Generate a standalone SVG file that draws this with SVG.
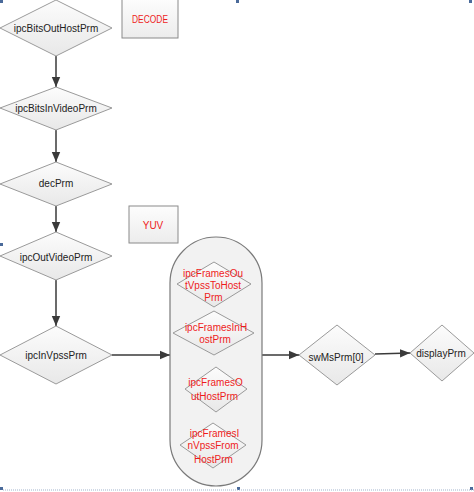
<svg xmlns="http://www.w3.org/2000/svg" width="474" height="492" viewBox="0 0 474 492">
<defs>
<linearGradient id="g" x1="0" y1="0" x2="0" y2="1">
<stop offset="0" stop-color="#fcfcfc"/>
<stop offset="1" stop-color="#e8e8e8"/>
</linearGradient>
<linearGradient id="gb" x1="0" y1="0" x2="0" y2="1">
<stop offset="0" stop-color="#fdfdfd"/>
<stop offset="1" stop-color="#ececec"/>
</linearGradient>
<marker id="ah" markerUnits="userSpaceOnUse" markerWidth="10" markerHeight="10" viewBox="0 0 10 10" refX="10" refY="5" orient="auto">
<path d="M0,0.8 L10,5 L0,9.2 Z" fill="#3a3a3a"/>
</marker>
</defs>
<style>
.d{fill:url(#g);stroke:#9a9a9a;stroke-width:1}
.b{fill:url(#gb);stroke:#8a8a8a;stroke-width:1}
.cap{fill:#f2f2f2;stroke:#7a7a7a;stroke-width:1.2}
.t{font-family:"Liberation Sans",Arial,sans-serif;font-size:10px;fill:#222;text-anchor:middle}
.r{font-family:"Liberation Sans",Arial,sans-serif;font-size:10px;fill:#ee1c1c;text-anchor:middle}
.c{stroke:#3a3a3a;stroke-width:1.5;fill:none;marker-end:url(#ah)}
.h{fill:#4a6a9a}
</style>
<rect width="474" height="492" fill="#ffffff"/>
<g id="handles">
<rect class="h" x="0" y="0" width="3" height="3"/>
<rect class="h" x="236" y="0" width="3" height="3"/>
<rect class="h" x="469" y="0" width="3" height="3"/>
<rect class="h" x="0" y="243" width="3" height="3"/>
<rect class="h" x="0" y="487" width="3" height="3"/>
<rect class="h" x="237" y="487" width="3" height="3"/>
<rect class="h" x="470" y="487" width="3" height="3"/>
<line x1="3" y1="490" x2="474" y2="490" stroke="#9fb2cc" stroke-width="1.2" stroke-dasharray="1,1"/>
</g>
<g id="connectors">
<line class="c" x1="56" y1="56" x2="56" y2="87"/>
<line class="c" x1="56" y1="130" x2="56" y2="162"/>
<line class="c" x1="56" y1="206" x2="56" y2="232"/>
<line class="c" x1="56" y1="280" x2="56" y2="326"/>
<line class="c" x1="112" y1="355" x2="170" y2="355"/>
<line class="c" x1="262" y1="355" x2="299" y2="355"/>
<line class="c" x1="375" y1="354" x2="410" y2="353"/>
</g>
<g id="n1">
<polygon class="d" points="56,0 112,28 56,56 0,28"/>
<text class="t" x="56" y="31.5">ipcBitsOutHostPrm</text>
</g>
<g id="decode">
<rect class="b" x="122" y="-1" width="56" height="39"/>
<text class="r" x="150" y="22.5" font-size="9.5" textLength="36" lengthAdjust="spacingAndGlyphs">DECODE</text>
</g>
<g id="n2">
<polygon class="d" points="56,87 112,108 56,130 0,108"/>
<text class="t" x="56" y="111.5">ipcBitsInVideoPrm</text>
</g>
<g id="n3">
<polygon class="d" points="56,162 112,184 56,206 0,184"/>
<text class="t" x="56" y="187">decPrm</text>
</g>
<g id="yuv">
<rect class="b" x="129" y="206" width="49" height="37"/>
<text class="r" x="153" y="228.5">YUV</text>
</g>
<g id="n4">
<polygon class="d" points="56,232 112,256 56,280 0,256"/>
<text class="t" x="56" y="260.5">ipcOutVideoPrm</text>
</g>
<g id="n5">
<polygon class="d" points="56,326 112,355 56,384 0,355"/>
<text class="t" x="56" y="358.5">ipcInVpssPrm</text>
</g>
<g id="group">
<rect class="cap" x="170" y="237" width="92" height="249" rx="46" ry="46"/>
</g>
<g id="g1">
<polygon class="d" points="214,262 251,284 214,307 177,284"/>
<text class="r" x="213" y="276.5">ipcFramesOu</text>
<text class="r" x="213" y="288.5">tVpssToHost</text>
<text class="r" x="213.5" y="300.5">Prm</text>
</g>
<g id="g2">
<polygon class="d" points="214,311 254,333 214,355 173,333"/>
<text class="r" x="216" y="330.5">ipcFramesInH</text>
<text class="r" x="215" y="342.5">ostPrm</text>
</g>
<g id="g3">
<polygon class="d" points="216,367 247,389 216,412 185,389"/>
<text class="r" x="215.5" y="385.5">ipcFramesO</text>
<text class="r" x="214.5" y="399.5">utHostPrm</text>
</g>
<g id="g4">
<polygon class="d" points="213,423 246,445 213,468 180,445"/>
<text class="r" x="214.5" y="436.5">ipcFramesI</text>
<text class="r" x="213" y="448.5">nVpssFrom</text>
<text class="r" x="213.5" y="462.5">HostPrm</text>
</g>
<g id="n6">
<polygon class="d" points="337,325 375,355 337,385 299,355"/>
<text class="t" x="336" y="360.5">swMsPrm[0]</text>
</g>
<g id="n7">
<polygon class="d" points="442,325 474,353 442,381 410,353"/>
<text class="t" x="441" y="356.5">displayPrm</text>
</g>
</svg>
